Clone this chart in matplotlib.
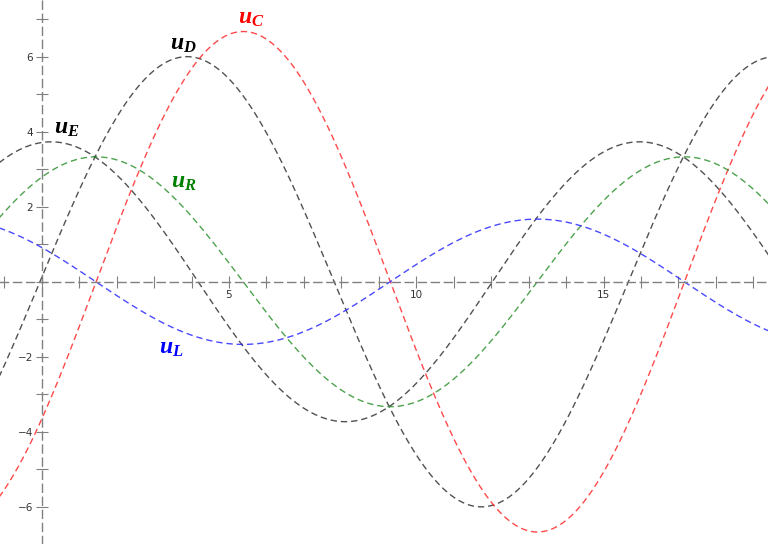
import numpy as np
import matplotlib
matplotlib.use("Agg")
import matplotlib.pyplot as plt
from matplotlib.ticker import FixedLocator, NullFormatter, FuncFormatter

plt.rcParams['lines.scale_dashes'] = False
plt.rcParams['mathtext.fontset'] = 'custom'
plt.rcParams['mathtext.it'] = 'Liberation Serif:italic:bold'
plt.rcParams['mathtext.rm'] = 'Liberation Serif:bold'

# angular frequency read from the spacing of the peaks (period ~15.7)
omega = 0.4

# curves: name, amplitude, x of the first peak, colour
names = ["u_E", "u_D", "u_C", "u_R", "u_L"]
amplitudes = [3.73, 6.0, 6.67, 3.33, 1.67]
peak_x = [0.25, 3.88, 5.38, 1.45, -2.48]
colors = ["#333333", "#333333", "#ff2a2a", "#2e922e", "#2a2aff"]

# label positions (data coords)
label_x = [0.68, 3.78, 5.6, 3.78, 3.45]
label_y = [4.13, 6.37, 7.06, 2.69, -1.74]
label_colors = ["black", "black", "red", "green", "blue"]

xtick_labels = [5, 10, 15]
ytick_labels = [-6, -4, -2, 2, 4, 6]

fig = plt.figure(figsize=(7.68, 5.44), dpi=100)
ax = fig.add_axes([0, 0, 1, 1])
ax.set_xlim(-1.113, 19.39)
ax.set_ylim(-6.99, 7.51)

x = np.linspace(-1.2, 19.5, 600)
for amp, x0, c in zip(amplitudes, peak_x, colors):
    ax.plot(x, amp * np.cos(omega * (x - x0)), color=c, lw=1.0,
            linestyle=(0, (4.6, 2.8)), alpha=0.85)

for n, lx, ly, c in zip(names, label_x, label_y, label_colors):
    ax.text(lx, ly, "$" + n + "$", color=c, fontsize=17,
            ha="center", va="center")

# axes through the origin, dashed grey
for s in ["top", "right"]:
    ax.spines[s].set_visible(False)
for s in ["left", "bottom"]:
    ax.spines[s].set_position("zero")
    ax.spines[s].set_color("#808080")
    ax.spines[s].set_linewidth(1.0)
    ax.spines[s].set_linestyle((0, (5.8, 3.6)))

ax.xaxis.set_major_locator(FixedLocator(xtick_labels))
ax.xaxis.set_minor_locator(FixedLocator(np.arange(-1, 20)))
ax.yaxis.set_major_locator(FixedLocator(ytick_labels))
ax.yaxis.set_minor_locator(FixedLocator(np.arange(-7, 8)))
fmt = FuncFormatter(lambda v, p: "%d" % v if v > 0 else "\u2212%d" % -v)
ax.xaxis.set_major_formatter(fmt)
ax.yaxis.set_major_formatter(fmt)
ax.xaxis.set_minor_formatter(NullFormatter())
ax.yaxis.set_minor_formatter(NullFormatter())
ax.tick_params(which="both", direction="inout", length=9, width=0.8,
               color="#808080", labelsize=7.5, labelcolor="#333333", pad=1.5)

fig.savefig("out.png", dpi=100)
